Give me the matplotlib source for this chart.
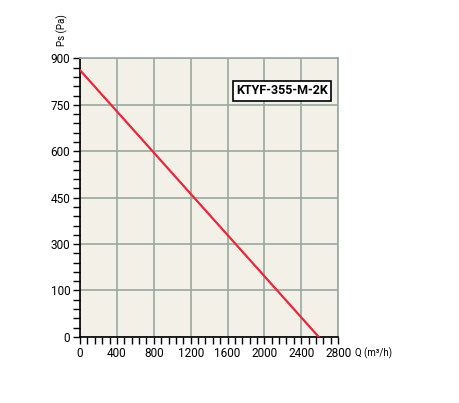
import numpy as np
import matplotlib.pyplot as plt
from matplotlib.ticker import MultipleLocator

# curve end points
q = [0, 2590]
ps = [862, 0]

y_ticks = [0, 150, 300, 450, 600, 750, 900]
y_labels = ["0", "100", "300", "450", "600", "750", "900"]
x_ticks = [0, 400, 800, 1200, 1600, 2000, 2400, 2800]
model = "KTYF-355-M-2K"

plt.rcParams["font.family"] = ["Roboto", "DejaVu Sans"]

fig = plt.figure(figsize=(4.6, 4.03), dpi=100)
ax = fig.add_axes([0.174, 0.164, 0.561, 0.691])
ax.set_facecolor("#F3F0E7")

ax.plot(q, ps, color="#E8283A", linewidth=1.6, zorder=3)

ax.set_xlim(0, 2800)
ax.set_ylim(0, 900)
ax.set_xticks(x_ticks)
ax.set_yticks(y_ticks)
ax.set_yticklabels(y_labels)
ax.xaxis.set_minor_locator(MultipleLocator(80))
ax.yaxis.set_minor_locator(MultipleLocator(30))
ax.tick_params(which="both", direction="out", length=5, width=1, labelsize=8.5, pad=2)
ax.grid(True, which="major", color="#98A8A1", linewidth=1.2)
ax.set_axisbelow(True)

for s in ["top", "right"]:
    ax.spines[s].set_color("#98A8A1")
    ax.spines[s].set_linewidth(1.2)
for s in ["left", "bottom"]:
    ax.spines[s].set_linewidth(1.2)

ax.text(1690, 795, model, fontsize=9, fontweight="bold", va="center", ha="left",
        bbox=dict(boxstyle="square,pad=0.25", facecolor="white", edgecolor="black", linewidth=1.2),
        zorder=4)

fig.text(0.135, 0.885, "Ps (Pa)", rotation=90, fontsize=7, ha="center", va="bottom")
fig.text(0.772, 0.123, "Q (m³/h)", fontsize=7, ha="left", va="center")

fig.savefig("out.png", dpi=100)
